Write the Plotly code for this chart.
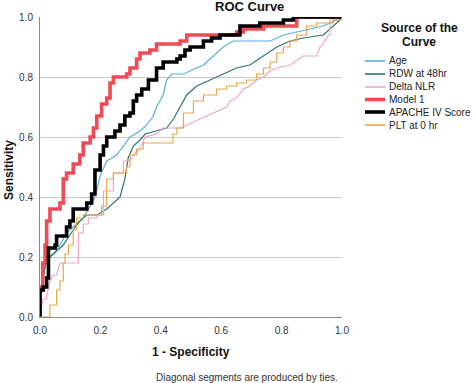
import plotly.graph_objects as go

# ---------------- data ----------------
age_fpr = [0, 0.006, 0.017, 0.028, 0.044, 0.066, 0.088, 0.121, 0.143, 0.166, 0.182, 0.199, 0.221, 0.254,
           0.276, 0.298, 0.331, 0.353, 0.375, 0.386, 0.408, 0.419, 0.436, 0.475, 0.497, 0.541, 0.563, 0.585,
           0.607, 0.64, 0.673, 0.762, 0.806, 0.85, 0.905, 0.938, 0.982, 1.0]
age_tpr = [0, 0.09, 0.17, 0.20, 0.21, 0.24, 0.28, 0.31, 0.33, 0.37, 0.40, 0.47, 0.52, 0.54,
           0.57, 0.60, 0.62, 0.64, 0.67, 0.70, 0.74, 0.79, 0.81, 0.81, 0.82, 0.84, 0.86, 0.88,
           0.90, 0.92, 0.92, 0.92, 0.94, 0.95, 0.96, 0.97, 0.99, 1.0]

rdw_fpr = [0, 0, 0.011, 0.022, 0.044, 0.077, 0.11, 0.132, 0.155, 0.188, 0.221, 0.243, 0.265, 0.281,
           0.292, 0.309, 0.331, 0.348, 0.386, 0.419, 0.442, 0.464, 0.486, 0.519, 0.563, 0.607, 0.651,
           0.695, 0.74, 0.784, 0.828, 0.872, 0.938, 0.993, 1.0]
rdw_tpr = [0, 0.05, 0.14, 0.19, 0.21, 0.24, 0.29, 0.32, 0.34, 0.34, 0.36, 0.38, 0.40, 0.46,
           0.53, 0.57, 0.59, 0.61, 0.62, 0.63, 0.66, 0.70, 0.74, 0.77, 0.79, 0.81, 0.83,
           0.84, 0.87, 0.90, 0.92, 0.93, 0.94, 0.99, 1.0]

nlr_fpr = [0, 0.01, 0.02, 0.033, 0.044, 0.055, 0.066, 0.127, 0.127, 0.143, 0.143, 0.16, 0.16, 0.188,
           0.188, 0.21, 0.21, 0.243, 0.243, 0.276, 0.276, 0.298, 0.309, 0.331, 0.348, 0.386, 0.408,
           0.464, 0.618, 0.63, 0.651, 0.673, 0.695, 0.717, 0.74, 0.762, 0.784, 0.828, 0.872, 0.916,
           0.927, 0.938, 0.955, 0.96, 0.96, 0.982, 1.0]
nlr_tpr = [0, 0.06, 0.06, 0.12, 0.14, 0.14, 0.18, 0.18, 0.28, 0.28, 0.31, 0.31, 0.33, 0.33,
           0.34, 0.34, 0.42, 0.42, 0.48, 0.48, 0.52, 0.52, 0.54, 0.56, 0.60, 0.61, 0.63,
           0.63, 0.70, 0.72, 0.73, 0.76, 0.77, 0.79, 0.80, 0.82, 0.83, 0.84, 0.87, 0.87,
           0.90, 0.91, 0.94, 0.94, 0.99, 0.99, 1.0]

model1_fpr = [0, 0, 0.009, 0.017, 0.022, 0.033, 0.055, 0.066, 0.077, 0.088, 0.11, 0.132, 0.143, 0.166,
              0.177, 0.188, 0.204, 0.221, 0.232, 0.243, 0.287, 0.298, 0.32, 0.331, 0.364, 0.386, 0.464,
              0.486, 0.585, 0.651, 0.673, 0.74, 0.817, 0.85, 1.0]
model1_tpr = [0, 0.10, 0.18, 0.24, 0.32, 0.36, 0.36, 0.38, 0.46, 0.48, 0.51, 0.54, 0.58, 0.60,
              0.63, 0.67, 0.71, 0.73, 0.78, 0.80, 0.81, 0.83, 0.86, 0.88, 0.89, 0.91, 0.92,
              0.94, 0.94, 0.95, 0.96, 0.97, 0.97, 1.0, 1.0]

apache_fpr = [0, 0, 0.011, 0.022, 0.028, 0.044, 0.05, 0.055, 0.077, 0.088, 0.099, 0.11, 0.143, 0.155,
              0.171, 0.182, 0.193, 0.199, 0.21, 0.221, 0.237, 0.248, 0.265, 0.281, 0.298, 0.309, 0.32,
              0.337, 0.359, 0.375, 0.386, 0.408, 0.453, 0.464, 0.48, 0.497, 0.53, 0.541, 0.568, 0.596,
              0.651, 0.662, 0.728, 0.762, 0.806, 0.839, 1.0]
apache_tpr = [0, 0.09, 0.10, 0.13, 0.23, 0.23, 0.24, 0.27, 0.27, 0.30, 0.32, 0.36, 0.36, 0.38,
              0.41, 0.49, 0.49, 0.54, 0.57, 0.60, 0.60, 0.62, 0.64, 0.67, 0.68, 0.72, 0.74,
              0.76, 0.79, 0.79, 0.83, 0.85, 0.86, 0.87, 0.89, 0.90, 0.90, 0.92, 0.93, 0.94,
              0.94, 0.97, 0.98, 0.98, 0.99, 1.0, 1.0]

plt_fpr = [0, 0.017, 0.033, 0.055, 0.066, 0.077, 0.083, 0.094, 0.11, 0.121, 0.143, 0.188, 0.204, 0.221,
           0.243, 0.265, 0.287, 0.298, 0.32, 0.342, 0.43, 0.44, 0.453, 0.475, 0.508, 0.541, 0.585,
           0.618, 0.651, 0.684, 0.717, 0.74, 0.762, 0.784, 0.806, 0.828, 0.85, 0.883, 0.916, 0.949,
           0.971, 1.0]
plt_tpr = [0, 0, 0.04, 0.09, 0.12, 0.18, 0.21, 0.24, 0.29, 0.33, 0.34, 0.34, 0.37, 0.46,
           0.48, 0.48, 0.50, 0.54, 0.56, 0.58, 0.58, 0.61, 0.63, 0.68, 0.72, 0.74, 0.76,
           0.77, 0.78, 0.79, 0.81, 0.83, 0.85, 0.88, 0.90, 0.92, 0.94, 0.97, 0.98, 0.98,
           0.99, 1.0]

series_names = ["Age", "RDW at 48hr", "Delta NLR", "Model 1", "APACHE IV Score", "PLT at 0 hr"]
series_x = [age_fpr, rdw_fpr, nlr_fpr, model1_fpr, apache_fpr, plt_fpr]
series_y = [age_tpr, rdw_tpr, nlr_tpr, model1_tpr, apache_tpr, plt_tpr]
series_colors = ["#5aaedc", "#2e7474", "#f2a4c4", "#ef4b55", "#000000", "#e8a848"]
series_widths = [1.2, 1.2, 1.2, 3.6, 3.6, 1.2]
series_shapes = ["linear", "linear", "linear", "hv", "hv", "hv"]

tick_vals = [0.0, 0.2, 0.4, 0.6, 0.8, 1.0]
tick_text = ["0.0", "0.2", "0.4", "0.6", "0.8", "1.0"]

# ---------------- figure ----------------
W, H = 474, 383
L, R, T, B = 40, 342, 17, 317
FONT = "Liberation Sans, Arial, sans-serif"


def px(xp):
    return (xp - L) / (R - L)


def py(yp):
    return (B - yp) / (B - T)


fig = go.Figure()
for name, xs, ys, c, w, sh in zip(series_names, series_x, series_y, series_colors, series_widths, series_shapes):
    fig.add_trace(go.Scatter(x=xs, y=ys, mode="lines", name=name,
                             line=dict(color=c, width=w, shape=sh), showlegend=False))

fig.update_layout(
    width=W, height=H,
    margin=dict(l=L, r=W - R, t=T, b=H - B, pad=0),
    paper_bgcolor="white", plot_bgcolor="white",
    font=dict(family=FONT, size=10, color="#333333"),
    showlegend=False,
)
fig.update_xaxes(range=[0, 1], tickvals=tick_vals, ticktext=tick_text, showgrid=False,
                 zeroline=False, showline=True, linecolor="#8a8a8a", linewidth=1,
                 ticks="", ticklabelstandoff=4, tickfont=dict(size=10, color="#333333"))
fig.update_yaxes(range=[0, 1], tickvals=tick_vals, ticktext=tick_text, showgrid=True,
                 gridcolor="#c8c8c8", gridwidth=1, zeroline=False, showline=True,
                 linecolor="#8a8a8a", linewidth=1, ticks="", ticklabelstandoff=4,
                 tickfont=dict(size=10, color="#333333"))

ann = []
# title & axis titles & note
ann.append(dict(text="<b>ROC Curve</b>", x=px(249), y=py(7), xref="paper", yref="paper",
                showarrow=False, font=dict(size=13, color="#111111"), xanchor="center", yanchor="middle"))
ann.append(dict(text="<b>Sensitivity</b>", x=px(9), y=py(170), xref="paper", yref="paper",
                showarrow=False, textangle=-90, font=dict(size=12, color="#111111"),
                xanchor="center", yanchor="middle"))
ann.append(dict(text="<b>1 - Specificity</b>", x=px(191), y=py(352), xref="paper", yref="paper",
                showarrow=False, font=dict(size=12, color="#111111"), xanchor="center", yanchor="middle"))
ann.append(dict(text="Diagonal segments are produced by ties.", x=px(247), y=py(377), xref="paper",
                yref="paper", showarrow=False, font=dict(size=10, color="#333333"),
                xanchor="center", yanchor="middle"))
# legend title
ann.append(dict(text="<b>Source of the</b>", x=px(419), y=py(28), xref="paper", yref="paper",
                showarrow=False, font=dict(size=12, color="#111111"), xanchor="center", yanchor="middle"))
ann.append(dict(text="<b>Curve</b>", x=px(419), y=py(42), xref="paper", yref="paper",
                showarrow=False, font=dict(size=12, color="#111111"), xanchor="center", yanchor="middle"))

shapes = []
row_y = [61, 74, 87, 99.5, 112, 125]
for name, c, w, ry in zip(series_names, series_colors, series_widths, row_y):
    shapes.append(dict(type="line", xref="paper", yref="paper", x0=px(365), x1=px(385),
                       y0=py(ry), y1=py(ry), line=dict(color=c, width=max(w, 1.6))))
    ann.append(dict(text=name, x=px(387), y=py(ry), xref="paper", yref="paper", showarrow=False,
                    font=dict(size=10, color="#222222"), xanchor="left", yanchor="middle"))

fig.update_layout(annotations=ann, shapes=shapes)
fig.write_html("out.html", config={"displayModeBar": False},
               post_script="document.body.style.margin='0';document.body.style.overflow='hidden';")
